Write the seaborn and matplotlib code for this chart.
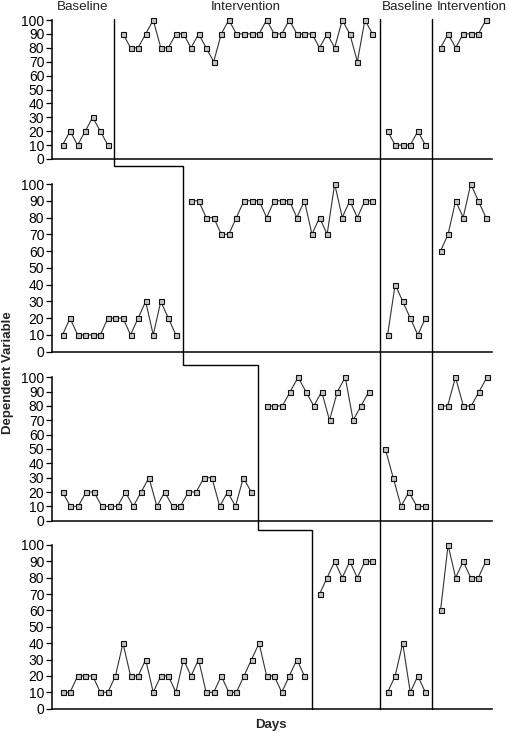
import numpy as np
import pandas as pd
import matplotlib
matplotlib.use("Agg")
import matplotlib.pyplot as plt
import seaborn as sns

# dados (4 participantes, fases A-B-A-B)
p1_base = [10, 20, 10, 20, 30, 20, 10]
p1_int = [90, 80, 80, 90, 100, 80, 80, 90, 90, 80, 90, 80, 70, 90, 100, 90, 90,
          90, 90, 100, 90, 90, 100, 90, 90, 90, 80, 90, 80, 100, 90, 70, 100, 90]
p1_base2 = [20, 10, 10, 10, 20, 10]
p1_int2 = [80, 90, 80, 90, 90, 90, 100]

p2_base = [10, 20, 10, 10, 10, 10, 20, 20, 20, 10, 20, 30, 10, 30, 20, 10]
p2_int = [90, 90, 80, 80, 70, 70, 80, 90, 90, 90, 80, 90, 90, 90, 80, 90, 70,
          80, 70, 100, 80, 90, 80, 90, 90]
p2_base2 = [10, 40, 30, 20, 10, 20]
p2_int2 = [60, 70, 90, 80, 100, 90, 80]

p3_base = [20, 10, 10, 20, 20, 10, 10, 10, 20, 10, 20, 30, 10, 20, 10, 10, 20,
           20, 30, 30, 10, 20, 10, 30, 20]
p3_int = [80, 80, 80, 90, 100, 90, 80, 90, 70, 90, 100, 70, 80, 90]
p3_base2 = [50, 30, 10, 20, 10, 10]
p3_int2 = [80, 80, 100, 80, 80, 90, 100]

p4_base = [10, 10, 20, 20, 20, 10, 10, 20, 40, 20, 20, 30, 10, 20, 20, 10, 30,
           20, 30, 10, 10, 20, 10, 10, 20, 30, 40, 20, 20, 10, 20, 30, 20]
p4_int = [70, 80, 90, 80, 90, 80, 90, 90]
p4_base2 = [10, 20, 40, 10, 20, 10]
p4_int2 = [60, 100, 80, 90, 80, 80, 90]

# dia em que cada fase comeca e passo entre sessoes
p_starts = [[1, 9, 44, 51], [1, 18, 44, 51], [1, 28, 43.7, 50.9], [1, 35, 44, 51]]
p_steps = [1, 1, 1.04, 1]

# linhas de mudanca de fase
stair_days = [7.85, 16.98, 26.9, 34.04]
long_days = [43.0, 49.92]

phase_labels = ["Baseline", "Intervention", "Baseline", "Intervention"]
phase_label_days = [3.7, 25.2, 46.6, 55.1]

series = [
    [p1_base, p1_int, p1_base2, p1_int2],
    [p2_base, p2_int, p2_base2, p2_int2],
    [p3_base, p3_int, p3_base2, p3_int2],
    [p4_base, p4_int, p4_base2, p4_int2],
]

rows = []
for i, fases in enumerate(series):
    for j, vals in enumerate(fases):
        dias = p_starts[i][j] + p_steps[i] * np.arange(len(vals))
        for d, v in zip(dias, vals):
            rows.append({"painel": i, "fase": j, "dia": d, "valor": v})
df = pd.DataFrame(rows)

sns.set_theme(style="white")
plt.rcParams["font.family"] = ["Liberation Sans", "DejaVu Sans"]

W, H = 510, 733
fig = plt.figure(figsize=(W / 100, H / 100), dpi=100)

x0, x1 = 52, 491.7
xlim = (-0.39, 57.77)
# (topo=100, base=0) de cada painel em pixels
panel_px = [(20, 159), (184, 351.7), (377.3, 520.7), (545, 708.7)]

for i, (top, bot) in enumerate(panel_px):
    ax = fig.add_axes([x0 / W, (H - bot) / H, (x1 - x0) / W, (bot - top) / H])
    sub = df[df["painel"] == i]
    sns.lineplot(data=sub, x="dia", y="valor", units="fase", estimator=None,
                 ax=ax, color="#333333", lw=0.8, marker="s", markersize=3.6,
                 markerfacecolor="#c4c4c4", markeredgecolor="#111111",
                 markeredgewidth=0.8, clip_on=False, legend=False)
    ax.set_xlim(*xlim)
    ax.set_ylim(0, 100)
    ax.set_yticks(range(0, 101, 10))
    ax.set_xticks([])
    ax.set_xlabel("")
    ax.set_ylabel("")
    ax.patch.set_visible(False)
    for s in ["top", "right"]:
        ax.spines[s].set_visible(False)
    for s in ["left", "bottom"]:
        ax.spines[s].set_color("black")
        ax.spines[s].set_linewidth(1.1)
    ax.tick_params(axis="y", left=True, length=4.5, width=0.9, pad=1,
                   labelsize=10, colors="black")

# camada por cima para linhas de fase e textos
ov = fig.add_axes([x0 / W, 0, (x1 - x0) / W, 1])
ov.set_xlim(*xlim)
ov.set_ylim(H, 0)
ov.axis("off")

stair_y = [19, 165.7, 365, 530, 708.7]
xs, ys = [], []
for k, d in enumerate(stair_days):
    xs += [d, d]
    ys += [stair_y[k], stair_y[k + 1]]
    if k + 1 < len(stair_days):
        xs.append(stair_days[k + 1])
        ys.append(stair_y[k + 1])
ov.plot(xs, ys, color="black", lw=1.0, solid_joinstyle="miter")
for d in long_days:
    ov.plot([d, d], [19, 708.7], color="black", lw=1.0)

for lab, d in zip(phase_labels, phase_label_days):
    ov.text(d, 10.5, lab, ha="center", va="baseline", fontsize=9.6,
            color="#222222")

fig.text(8.5 / W, 1 - 372.5 / H, "Dependent Variable", rotation=90,
         ha="center", va="center", fontsize=9.5, fontweight="bold")
fig.text(271 / W, 1 - 725 / H, "Days", ha="center", va="center",
         fontsize=9.5, fontweight="bold")

fig.savefig("out.png", dpi=100)
